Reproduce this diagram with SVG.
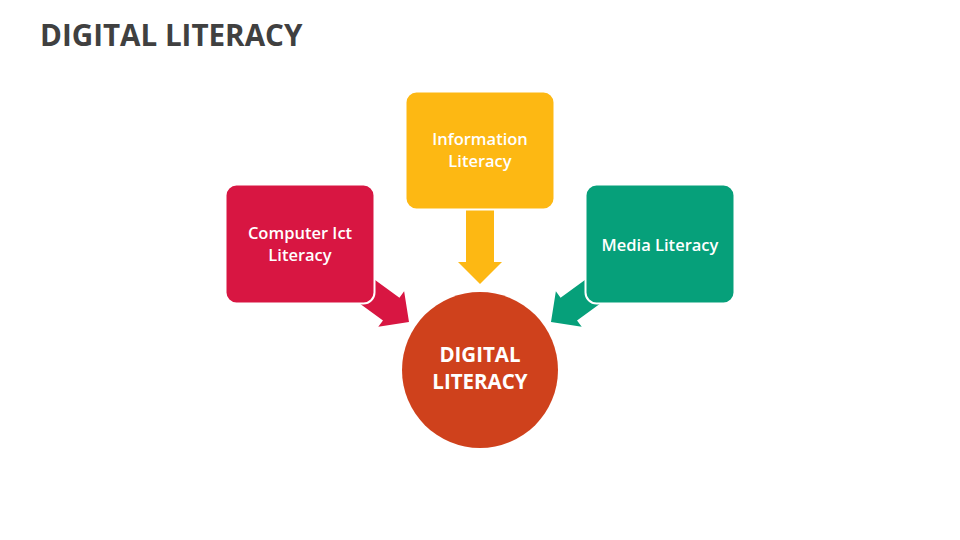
<svg xmlns="http://www.w3.org/2000/svg" width="960" height="540" viewBox="0 0 960 540">
<style>
.t{font-family:"Open Sans","Liberation Sans",sans-serif;fill:#fff;text-anchor:middle;font-size:16.5px;font-weight:600}
.b{font-weight:bold;font-size:20.5px}
.box{stroke:#fff;stroke-width:2}
</style>
<defs>
<path id="arr" d="M-75,-14 L-22,-14 L-22,-22 L0,0 L-22,22 L-22,14 L-75,14 Z"/>
</defs>
<rect width="960" height="540" fill="#fff"/>
<text x="40" y="46" font-family="'Open Sans','Liberation Sans',sans-serif" font-weight="bold" font-size="29.6" fill="#404040">DIGITAL LITERACY</text>
<g id="connectors">
<path d="M466,210 L494,210 L494,262 L502,262 L480,284 L458,262 L466,262 Z" fill="#FDB813"/>
<use href="#arr" transform="translate(409,322) rotate(36)" fill="#D81642"/>
<use href="#arr" transform="translate(551,322) rotate(144)" fill="#06A07A"/>
</g>
<g id="info">
<rect class="box" x="405.5" y="91.5" width="149" height="118" rx="11" fill="#FDB813"/>
<text class="t" x="480" y="145">Information</text>
<text class="t" x="480" y="167">Literacy</text>
</g>
<g id="computer">
<rect class="box" x="225.5" y="184.5" width="149" height="119" rx="11" fill="#D81642"/>
<text class="t" x="300" y="238.5">Computer Ict</text>
<text class="t" x="300" y="260.5">Literacy</text>
</g>
<g id="media">
<rect class="box" x="585.5" y="184.5" width="149" height="119" rx="11" fill="#06A07A"/>
<text class="t" x="660" y="250.5">Media Literacy</text>
</g>
<g id="center">
<circle cx="480" cy="370" r="78" fill="#CF411C"/>
<text class="t b" x="480" y="362">DIGITAL</text>
<text class="t b" x="480" y="389">LITERACY</text>
</g>
</svg>
